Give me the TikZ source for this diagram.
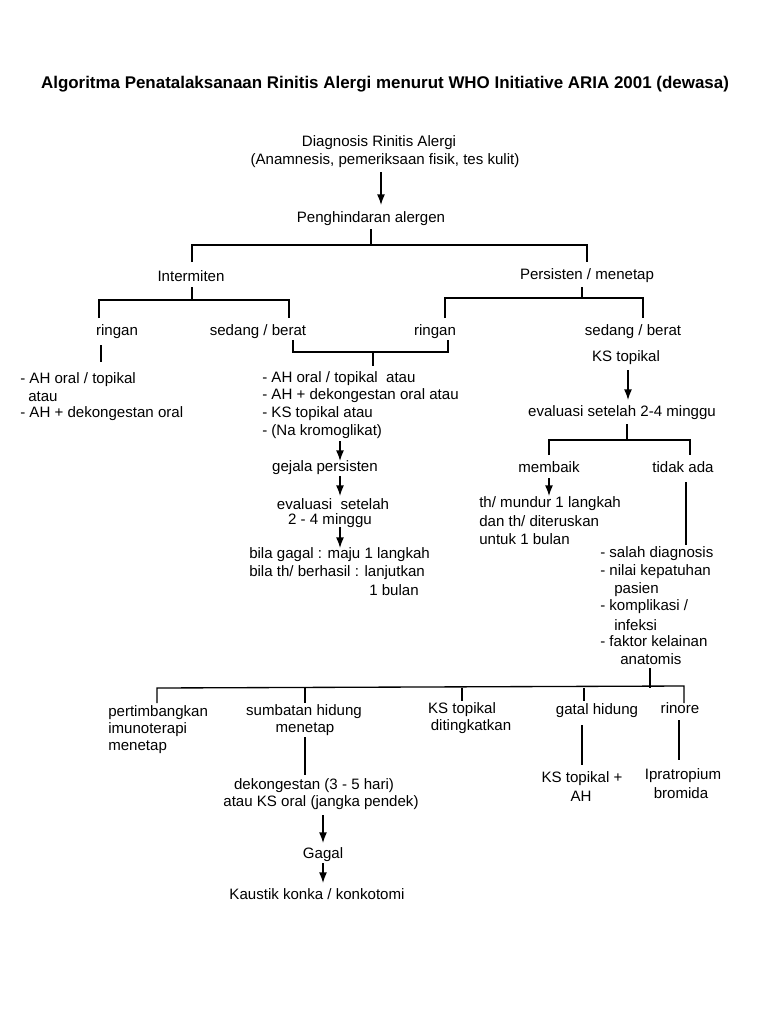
\documentclass[tikz,border=0pt]{standalone}
\usepackage{fontspec}
\setmainfont{Liberation Sans}
\usetikzlibrary{arrows.meta}
\begin{document}
\begin{tikzpicture}[x=0.75pt,y=-0.75pt,
  t/.style={inner sep=0pt,font=\fontsize{11.3}{13}\selectfont},
  l/.style={t,anchor=west},
  ln/.style={line width=1pt},
  ar/.style={ln,-{Latex[length=8pt,width=6pt]}}]
\useasboundingbox[fill=white] (0,0) rectangle (768,1024);
\node[t,font=\fontsize{12.7}{14}\selectfont\bfseries] (title) at (385,84) {Algoritma Penatalaksanaan Rinitis Alergi menurut WHO Initiative ARIA 2001 (dewasa)};
\node[t] (d1) at (379,143) {Diagnosis Rinitis Alergi};
\node[t] (d2) at (385,161) {(Anamnesis, pemeriksaan fisik, tes kulit)};
\node[t] (pa) at (371,219) {Penghindaran alergen};
\draw[ar] (381,172) -- (381,205);
\coordinate (pa1) at (371,245);
\draw[ln] (371,229) -- (pa1);
\draw[ln] (192,262) -- (192,245) -- (587,245) -- (587,262);
\node[t] (im) at (191,276) {Intermiten};
\node[t] (ps) at (587,276) {Persisten / menetap};
\draw[ln] (192,287) -- (192,300);
\draw[ln] (99,318) -- (99,300) -- (289,300) -- (289,318);
\draw[ln] (582,287) -- (582,298);
\draw[ln] (445,318) -- (445,298) -- (643,298) -- (643,318);
\node[t] (r1) at (117,332) {ringan};
\node[t] (s1) at (258,332) {sedang / berat};
\node[t] (r2) at (435,332) {ringan};
\node[t] (s2) at (633,332) {sedang / berat};
\draw[ln] (101,345) -- (101,362);
\draw[ln] (293,340) -- (293,352) -- (448,352) -- (448,340);
\draw[ln] (373,352) -- (373,366);
\node[l] (la) at (20,380) {- AH oral / topikal};
\node[l] (lb) at (28,397) {atau};
\node[l] (lc) at (20,414) {- AH + dekongestan oral};
\node[l] (ma) at (262,379) {- AH oral / topikal~ atau};
\node[l] (mb) at (262,396) {- AH + dekongestan oral atau};
\node[l] (mc) at (262,414) {- KS topikal atau};
\node[l] (md) at (262,432) {- (Na kromoglikat)};
\node[t] (gp) at (325,468) {gejala persisten};
\draw[ar] (340,441) -- (340,461);
\node[t] (ev1) at (333,504) {evaluasi~ setelah};
\node[t] (ev2) at (330,521) {2 - 4 minggu};
\draw[ar] (340,476) -- (340,496);
\draw[ar] (340,527) -- (340,548);
\node[l] (bg) at (249,555) {bila gagal : maju 1 langkah};
\node[l] (bb) at (249,573) {bila th/ berhasil : lanjutkan};
\node[t] (bu) at (394,590) {1 bulan};
\node[t] (ks) at (626,358) {KS topikal};
\draw[ar] (628,370) -- (628,400);
\node[t] (ev3) at (622,413) {evaluasi setelah 2-4 minggu};
\draw[ln] (627,424) -- (627,440);
\draw[ln] (549,455) -- (549,440) -- (690,440) -- (690,455);
\node[t] (mbk) at (549,467) {membaik};
\node[t] (ta) at (683,467) {tidak ada};
\draw[ar] (549,478) -- (549,496);
\node[l] (ma1) at (479,504) {th/ mundur 1 langkah};
\node[l] (ma2) at (479,521) {dan th/ diteruskan};
\node[l] (ma3) at (479,539) {untuk 1 bulan};
\draw[ln] (686,482) -- (686,545);
\node[l] (sa) at (600,554) {- salah diagnosis};
\node[l] (sb) at (600,572) {- nilai kepatuhan};
\node[l] (sc) at (614,590) {pasien};
\node[l] (sd) at (600,607) {- komplikasi /};
\node[l] (se) at (614,625) {infeksi};
\node[l] (sf) at (600,641) {- faktor kelainan};
\node[l] (sg) at (620,659) {anatomis};
\draw[ln] (650,668) -- (650,688);
\draw[ln] (157,703) -- (157,688) -- (684,686) -- (684,703);
\draw[ln] (305,688) -- (305,703);
\draw[ln] (462,688) -- (462,701);
\draw[ln] (584,688) -- (584,701);
\node[l] (pt1) at (108,713) {pertimbangkan};
\node[l] (pt2) at (108,730) {imunoterapi};
\node[l] (pt3) at (108,747) {menetap};
\node[t] (sh1) at (304,712) {sumbatan hidung};
\node[t] (sh2) at (305,729) {menetap};
\node[t] (kt1) at (462,710) {KS topikal};
\node[t] (kt2) at (471,727) {ditingkatkan};
\node[t] (gh) at (597,711) {gatal hidung};
\node[t] (rn) at (680,708) {rinore};
\draw[ln] (582,725) -- (582,765);
\node[t] (ka1) at (582,779) {KS topikal +};
\node[t] (ka2) at (581,796) {AH};
\draw[ln] (679,720) -- (679,760);
\node[t] (ip1) at (683,776) {Ipratropium};
\node[t] (ip2) at (681,793) {bromida};
\draw[ln] (305,737) -- (305,775);
\node[t] (dk1) at (314,786) {dekongestan (3 - 5 hari)};
\node[t] (dk2) at (321,803) {atau KS oral (jangka pendek)};
\draw[ar] (323,815) -- (323,843);
\node[t] (gg) at (323,855) {Gagal};
\draw[ar] (323,863) -- (323,883);
\node[t] (kk) at (317,894) {Kaustik konka / konkotomi};
\end{tikzpicture}
\end{document}
